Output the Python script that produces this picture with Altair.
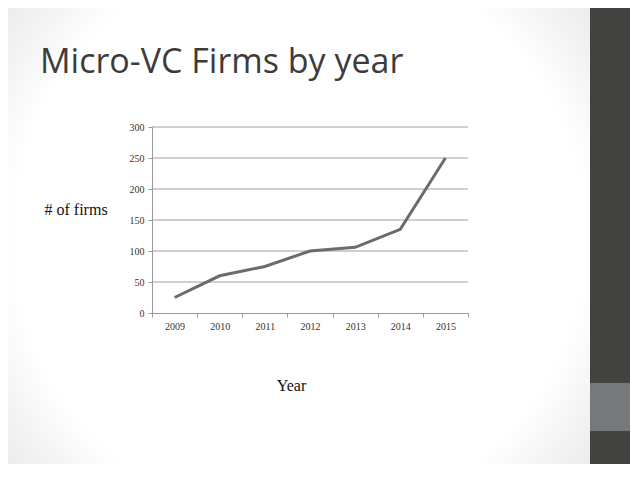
import altair as alt
import pandas as pd

years = ["2009", "2010", "2011", "2012", "2013", "2014", "2015"]
firms = [25, 60, 75, 100, 106, 135, 250]
y_ticks = [0, 50, 100, 150, 200, 250, 300]
grid_values = [50, 100, 150, 200, 250, 300]
title_text = "Micro-VC Firms by year"
y_title = "# of firms"
x_title = "Year"

df = pd.DataFrame({"year": years, "firms": firms})
grid_df = pd.DataFrame({"firms": grid_values})
bg = pd.DataFrame({"k": [0]})

W, H = 316, 186
PAD_L, PAD_T = 144, 119
SVG_W, SVG_H = 622, 456

y_scale = alt.Scale(domain=[0, 300], nice=False)

# slide background with soft vignette
backdrop = alt.Chart(bg).mark_rect(
    fill=alt.RadialGradient(
        gradient="radial",
        stops=[alt.GradientStop(offset=0.0, color="#ffffff"),
               alt.GradientStop(offset=0.68, color="#ffffff"),
               alt.GradientStop(offset=1.0, color="#e0e0e0")],
        x1=0.5, y1=0.5, r1=0.0, x2=0.5, y2=0.5, r2=0.72,
    )
).encode(
    x=alt.value(-PAD_L), x2=alt.value(438),
    y=alt.value(-PAD_T), y2=alt.value(SVG_H - PAD_T),
)

sidebar = alt.Chart(bg).mark_rect(color="#424241").encode(
    x=alt.value(438), x2=alt.value(SVG_W - PAD_L),
    y=alt.value(-PAD_T), y2=alt.value(SVG_H - PAD_T),
)
block = alt.Chart(bg).mark_rect(color="#77787b").encode(
    x=alt.value(438), x2=alt.value(SVG_W - PAD_L),
    y=alt.value(256), y2=alt.value(304),
)

title = alt.Chart(bg).mark_text(
    text=title_text, align="left", baseline="alphabetic",
    font="Open Sans", fontSize=34, color="#3c3c3c",
).encode(x=alt.value(-112), y=alt.value(-54))

y_axis = alt.Axis(title=y_title, values=y_ticks, grid=False, zindex=1,
                  labelOverlap=False, labelFlush=False,
                  domainColor="#9a9a9a", tickColor="#9a9a9a",
                  tickSize=4, labelPadding=4,
                  labelFont="Liberation Serif", labelFontSize=10,
                  labelColor="#333333",
                  titleAngle=0, titleAlign="left", titleBaseline="alphabetic",
                  titleX=-108, titleY=87,
                  titleFont="Liberation Serif", titleFontSize=16,
                  titleFontWeight="normal", titleColor="#111111")

grid = alt.Chart(grid_df).mark_rule(color="#a0a0a0", strokeWidth=1).encode(
    y=alt.Y("firms:Q", scale=y_scale, axis=y_axis),
    x=alt.value(0), x2=alt.value(W),
)

line = alt.Chart(df).mark_line(color="#6b6b6b", strokeWidth=3).encode(
    x=alt.X("year:O", sort=years,
            scale=alt.Scale(paddingInner=0, paddingOuter=0),
            axis=alt.Axis(title=x_title, labelAngle=0, tickBand="extent",
                          grid=False, zindex=1, labelOverlap=False,
                          domainColor="#9a9a9a", tickColor="#9a9a9a",
                          tickSize=4, labelPadding=4,
                          labelFont="Liberation Serif", labelFontSize=10,
                          labelColor="#333333",
                          titleFont="Liberation Serif", titleFontSize=16,
                          titleFontWeight="normal", titleColor="#111111",
                          titleX=139, titleY=77, titleBaseline="alphabetic")),
    y=alt.Y("firms:Q", scale=y_scale, axis=y_axis),
)

chart = alt.layer(backdrop, sidebar, block, title, grid, line).properties(
    width=W, height=H,
    autosize=alt.AutoSizeParams(type="none"),
    padding={"left": PAD_L, "top": PAD_T, "right": SVG_W - PAD_L - W, "bottom": SVG_H - PAD_T - H},
).configure_view(stroke=None).configure(background="white")

chart.save("out.html", embed_options={"renderer": "svg", "actions": False})
